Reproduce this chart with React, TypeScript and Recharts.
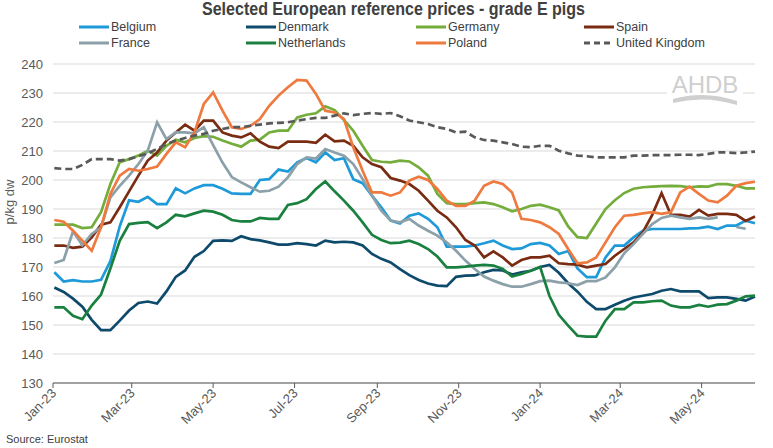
import React from 'react';
import { LineChart, Line, XAxis, YAxis, CartesianGrid } from 'recharts';

// weekly Eurostat reference prices, p/kg dw, first week starting Mon 2 Jan 2023
const belgium = [
  168.2, 165, 165.5, 165, 165, 165.6, 172, 184, 193, 192.5, 194.2, 191.7, 191.7, 197.1, 195.4, 197.1,
  198.2, 198.2, 197, 195.4, 195.2, 195.2, 200, 200.3, 203.6, 202.9, 206.1, 207.6, 206.1, 209.5, 206.9, 207.5,
  200.3, 198.9, 194.6, 190.6, 186, 185, 187.7, 188.5, 186.6, 183.7, 177, 177, 177, 177.4, 178.2, 179.1,
  177.4, 176.2, 176.4, 177.9, 178.3, 177.4, 174.5, 175.5, 169.5, 166.5, 166.5, 173.3, 177.4, 177.4, 180.2, 182.5,
  183.1, 183.1, 183.1, 183.1, 183.3, 183.4, 183.9, 183.1, 184.3, 184.3, 186, 185.1,
];
const denmark = [
  162.9, 161.4, 159.1, 156.3, 151.8, 148.2, 148.2, 151.5, 155, 157.6, 158.1, 157.4, 161.6, 166.6, 168.8, 173.5,
  175.5, 179, 179.2, 179, 180.6, 179.6, 179.2, 178.5, 177.7, 177.7, 178.2, 177.9, 177.4, 179.1, 178.5, 178.7,
  178.5, 177.4, 174.5, 172.8, 171.6, 169.3, 167.2, 165.5, 164.3, 163.6, 163.4, 166.6, 167, 167.1, 168.2, 169,
  168.8, 167.4, 168.2, 168.7, 170, 170.7, 168, 164.4, 161.5, 158, 155.5, 155.5, 157, 158.4, 159.5, 160.1,
  160.7, 161.8, 162.4, 161.6, 161.6, 161.6, 159.3, 159.5, 159.5, 159, 158.4, 159.8,
];
const germany = [
  184.6, 184.6, 184.6, 183.4, 183.7, 188.9, 198.6, 206.1, 207.2, 208.4, 210.1, 208.4, 211.8, 213.9, 213, 214.5,
  215.1, 214.9, 213.6, 212.5, 211.5, 213.6, 213.9, 216.4, 217, 217, 221.6, 222.5, 223, 225.4, 224.1, 220.7,
  217, 211.8, 206.9, 206.3, 206.1, 206.7, 206.4, 204.4, 201.5, 195.2, 192, 191.7, 191.7, 192, 192.3, 191.7,
  190.6, 189.2, 190, 191.1, 191.5, 190.6, 189.5, 184, 180.3, 180, 185, 190, 193, 195.5, 197, 197.5,
  197.7, 197.9, 198, 197.9, 197.5, 197.8, 197.7, 198.6, 198.6, 198, 197.1, 197.1,
];
const spain = [
  177.4, 177.4, 176.6, 177, 180.2, 184.6, 185.4, 190.6, 196.1, 201.5, 206.7, 209.5, 213.6, 216.4, 219.1, 217,
  220.5, 220.5, 216.4, 215.3, 214.7, 216.1, 213.2, 211.5, 211, 213.2, 213.2, 213.2, 212.8, 215.6, 213.3, 213.6,
  211.8, 207.8, 205.5, 204.4, 200.7, 199.8, 198.6, 196.3, 192.9, 189.4, 187.1, 183.7, 179.3, 177.4, 173.3, 175.4,
  173.3, 170.5, 172.4, 173.3, 173.3, 173.9, 171.3, 171, 170.8, 169.9, 170.5, 171, 173.9, 176.2, 178.5, 182,
  188, 195.5, 188, 188, 187.4, 189.7, 187.7, 188.3, 188.3, 188, 185.9, 187.4,
];
const france = [
  171.4, 172.4, 182.3, 177.5, 181.4, 183.7, 194, 198, 201.5, 205.5, 210.1, 219.9, 214.1, 216.4, 216.4, 216.1,
  218.2, 212, 206, 201, 199.2, 197.5, 196, 196.3, 197.7, 200.9, 205.5, 207.8, 207.4, 210.7, 209.5, 208.4,
  205.5, 200.3, 194.6, 189.4, 186, 185.4, 186.6, 184.3, 182.5, 180.8, 178.5, 175.6, 172.2, 169.3, 166.7, 165.3,
  164.1, 163.2, 163.2, 164.1, 165.1, 165.3, 164.7, 164.4, 163.8, 165.1, 165.1, 166.4, 169.9, 174.7, 177.9, 181.4,
  184.8, 186.9, 187.7, 187.1, 186.6, 187.1, 186.6, 187.1, null, 183.8, 183.2, null,
];
const netherlands = [
  156.1, 156.1, 153.2, 152, 156.7, 160.5, 169.5, 179, 184.8, 185.2, 185.5, 183.4, 185.4, 188, 187.5, 188.5,
  189.4, 189.1, 188, 186.2, 185.7, 185.7, 186.9, 186.6, 186.6, 191.4, 192, 193.4, 196.9, 199.5, 196.1, 192.9,
  189.4, 185.4, 181.1, 179.3, 178.2, 178.4, 179.1, 177.9, 176.2, 173.6, 169.9, 169.9, 170.1, 170.5, 170.7, 170.5,
  169.3, 166.7, 167.6, 168.7, 170, 160, 153.5, 149.8, 146.3, 146, 146, 151.5, 155.5, 155.5, 157.8, 157.8,
  158.2, 158.4, 156.7, 156.1, 156.1, 156.9, 156.3, 157, 157.2, 158.4, 159.9, 160.1,
];
const poland = [
  186.2, 185.6, 182.5, 179.1, 175.6, 183.7, 195.2, 201.5, 203.8, 203.2, 203.8, 204.6, 209, 213, 211.3, 216.4,
  226.2, 230.2, 223.9, 218.2, 217.6, 218.7, 221, 225.6, 229.1, 232, 234.5, 234.3, 229.7, 223.9, 223.3, 221,
  211.3, 203.2, 195.7, 195.7, 194.6, 195.7, 199.8, 201.1, 200, 196.9, 192.9, 191.1, 191.1, 192.9, 198, 199.5,
  198.6, 195.7, 186.6, 186.2, 185.4, 183.7, 181.4, 176.2, 171.3, 171.6, 173.3, 178.5, 183.7, 187.7, 188, 188.5,
  188.9, 188.3, 188.9, 195.7, 197.7, 195.2, 192.9, 192.3, 194.6, 198, 198.9, 199.4,
];
const unitedKingdom = [
  204.1, 203.8, 203.8, 205.2, 207.2, 207.2, 207.2, 206.7, 207.2, 208.2, 209.2, 210.7, 212.4, 213.6, 214.5, 215.3,
  215.9, 217, 217.6, 218.2, 218.2, 218.7, 219.1, 219.5, 219.7, 219.9, 220.5, 221, 221.4, 221.4, 222.2, 223,
  222.4, 222.8, 223.1, 222.8, 223.1, 222, 220.5, 219.9, 219.3, 218.2, 217.6, 216.4, 216.7, 214.7, 213.8, 213.6,
  213, 212.4, 211.5, 211.3, 211.8, 211.8, 210.1, 209.2, 208.4, 208.2, 207.8, 207.8, 207.8, 207.8, 208.4, 208.4,
  208.6, 208.6, 208.6, 208.7, 208.7, 208.6, 209, 209.5, 209.5, 209.3, 209.5, 209.8,
];

const tickLabels = ['Jan-23', 'Mar-23', 'May-23', 'Jul-23', 'Sep-23', 'Nov-23', 'Jan-24', 'Mar-24', 'May-24'];
const tickMonths: [number, number][] = [
  [2023, 0], [2023, 2], [2023, 4], [2023, 6], [2023, 8], [2023, 10], [2024, 0], [2024, 2], [2024, 4],
];
const yTicks = [130, 140, 150, 160, 170, 180, 190, 200, 210, 220, 230, 240];

const DAY = 86400000;
const ORIGIN = Date.UTC(2023, 0, 1);
const tickDays = tickMonths.map(([y, m]) => (Date.UTC(y, m, 1) - ORIGIN) / DAY);
const lastDay = 1 + 7 * (belgium.length - 1);

const series = [
  { key: 'Belgium', values: belgium, color: '#1f9ad8' },
  { key: 'Denmark', values: denmark, color: '#0e4a6b' },
  { key: 'Germany', values: germany, color: '#74ad3c' },
  { key: 'Spain', values: spain, color: '#7a2c13' },
  { key: 'France', values: france, color: '#8ba0a9' },
  { key: 'Netherlands', values: netherlands, color: '#1a803f' },
  { key: 'Poland', values: poland, color: '#ee7a3f' },
  { key: 'United Kingdom', values: unitedKingdom, color: '#595959', dashed: true },
];

const data = belgium.map((_, i) => {
  const row: Record<string, number | null> = { day: 1 + 7 * i };
  series.forEach((s) => { row[s.key] = s.values[i]; });
  return row;
});

const AXIS_FONT = '"Liberation Sans", Arial, sans-serif';

const XTick = (props: any) => {
  const { x, y, payload } = props;
  const idx = tickDays.indexOf(payload.value);
  return (
    <text
      x={x + 4}
      y={y + 4}
      transform={`rotate(-45 ${x + 4} ${y + 4})`}
      textAnchor="end"
      fontSize={13}
      fontFamily={AXIS_FONT}
      fill="#595959"
    >
      {tickLabels[idx]}
    </text>
  );
};

const legendCols = [79, 246, 416, 584];
const legendRows = [26.7, 43.3];

const App: React.FC = () => {
  return (
    <div style={{ position: 'absolute', left: 0, top: 0, width: 773, height: 448, background: '#fff' }}>
      <LineChart width={773} height={448} data={data} margin={{ top: 64, right: 18, bottom: 0, left: 0 }}>
        <CartesianGrid vertical={false} stroke="#d9d9d9" />
        <XAxis
          dataKey="day"
          type="number"
          domain={[0, lastDay]}
          ticks={tickDays}
          interval={0}
          height={65}
          tickSize={5}
          tickMargin={2}
          stroke="#595959"
          tick={<XTick />}
        />
        <YAxis
          domain={[130, 240]}
          ticks={yTicks}
          interval={0}
          width={53}
          axisLine={false}
          tickLine={false}
          tickSize={0}
          tickMargin={10}
          tick={{ fontSize: 13, fill: '#595959', fontFamily: AXIS_FONT }}
        />
        {series.map((s) => (
          <Line
            key={s.key}
            dataKey={s.key}
            type="linear"
            stroke={s.color}
            strokeWidth={2.7}
            strokeDasharray={s.dashed ? '7 4' : undefined}
            dot={false}
            activeDot={false}
            connectNulls={false}
            isAnimationActive={false}
          />
        ))}
      </LineChart>

      <svg width={773} height={20} style={{ position: 'absolute', left: 0, top: 0 }}>
        <text
          x={202}
          y={14.5}
          textLength={383}
          lengthAdjust="spacingAndGlyphs"
          fontFamily={AXIS_FONT}
          fontWeight="bold"
          fontSize={18}
          fill="#404040"
        >
          Selected European reference prices - grade E pigs
        </text>
      </svg>

      {series.map((s, i) => (
        <div
          key={s.key}
          style={{
            position: 'absolute',
            left: legendCols[i % 4],
            top: legendRows[Math.floor(i / 4)] - 8,
            height: 16,
            display: 'flex',
            alignItems: 'center',
            fontFamily: AXIS_FONT,
            fontSize: 12.5,
            color: '#404040',
            whiteSpace: 'nowrap',
          }}
        >
          <svg width={32} height={6}>
            <line
              x1={0} y1={3} x2={30} y2={3}
              stroke={s.color}
              strokeWidth={3}
              strokeDasharray={s.dashed ? '6 4' : undefined}
            />
          </svg>
          {s.key}
        </div>
      ))}

      <div
        style={{
          position: 'absolute', left: 9, top: 202, transform: 'translate(-50%, -50%) rotate(-90deg)',
          fontFamily: AXIS_FONT, fontSize: 13, color: '#595959', whiteSpace: 'nowrap',
        }}
      >
        p/kg dw
      </div>

      <div
        style={{
          position: 'absolute', left: 667, top: 70, width: 76, height: 36, background: '#fff',
        }}
      >
        <svg width={76} height={36}>
          <text x={38} y={23} textAnchor="middle" fontFamily={AXIS_FONT} fontSize={24} fill="#cfcfcf">
            AHDB
          </text>
          <path d="M6 29 Q 38 20 70 31 L 70 35 Q 38 25 6 33 Z" fill="#cfcfcf" />
        </svg>
      </div>

      <div
        style={{
          position: 'absolute', left: 6, top: 433, fontFamily: AXIS_FONT, fontSize: 11, color: '#404040',
        }}
      >
        Source: Eurostat
      </div>
    </div>
  );
};

export default App;
